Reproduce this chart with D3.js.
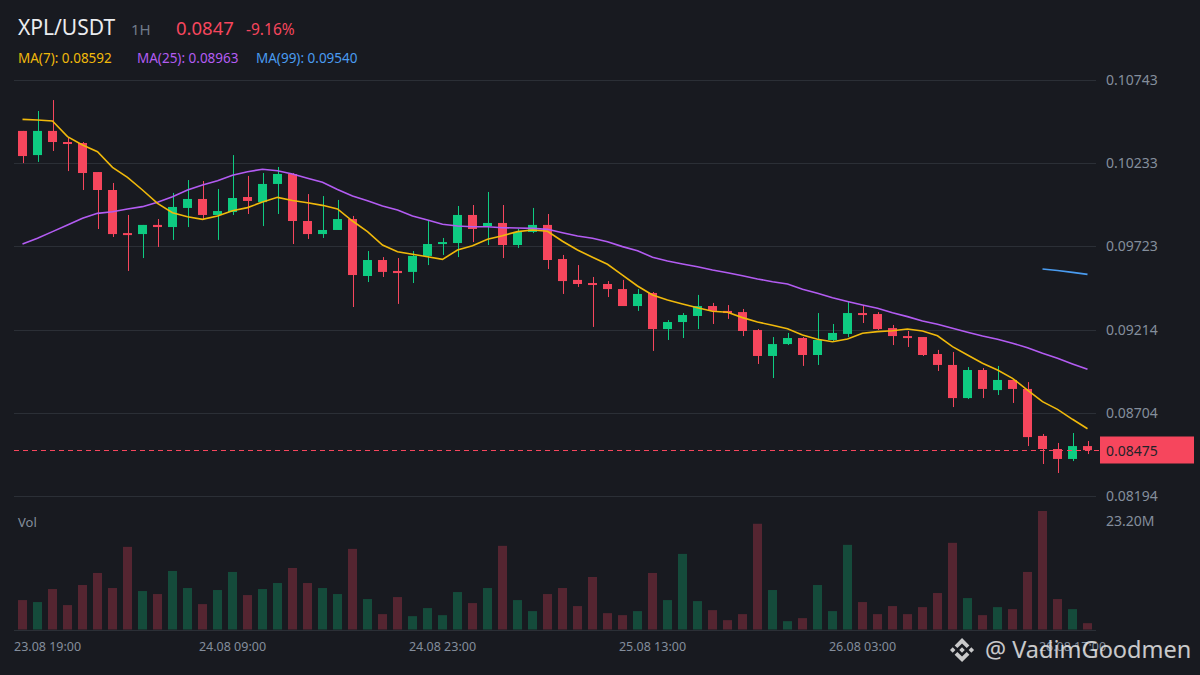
<!DOCTYPE html>
<html><head><meta charset="utf-8">
<script src="https://cdn.jsdelivr.net/npm/d3@7/dist/d3.min.js"></script>
<style>html,body{margin:0;padding:0;background:#181a20;overflow:hidden}svg{display:block}text{font-family:"Noto Sans",sans-serif}</style>
</head><body><svg id="c" width="1200" height="675"></svg>
<script>
const openP = [0.10431,0.10283,0.10431,0.10363,0.10357,0.10179,0.10069,0.09805,0.09799,0.09855,
0.09842,0.09959,0.10014,0.09916,0.09934,0.10026,0.09995,0.10106,0.10167,0.09879,
0.09799,0.09824,0.09891,0.09542,0.09640,0.09573,0.09567,0.09665,0.09738,0.09744,
0.09916,0.09848,0.09867,0.09732,0.09812,0.09855,0.09646,0.09518,0.09499,0.09493,
0.09462,0.09358,0.09438,0.09217,0.09260,0.09297,0.09358,0.09328,0.09321,0.09211,
0.09052,0.09125,0.09162,0.09058,0.09150,0.09187,0.09315,0.09309,0.09223,0.09174,
0.09168,0.09064,0.08997,0.08794,0.08966,0.08843,0.08905,0.08850,0.08562,0.08482,
0.08421,0.08500];
const highP = [0.10431,0.10553,0.10620,0.10388,0.10363,0.10179,0.10112,0.09916,0.09855,0.09891,
0.10051,0.10130,0.10124,0.10075,0.10283,0.10155,0.10173,0.10210,0.10173,0.10044,
0.10032,0.10008,0.09910,0.09695,0.09658,0.09652,0.09695,0.09879,0.09775,0.09971,
0.09977,0.10057,0.09977,0.09830,0.09959,0.09922,0.09671,0.09609,0.09536,0.09511,
0.09518,0.09462,0.09444,0.09272,0.09315,0.09426,0.09377,0.09364,0.09340,0.09217,
0.09168,0.09193,0.09168,0.09315,0.09248,0.09383,0.09358,0.09321,0.09242,0.09205,
0.09168,0.09089,0.09076,0.08984,0.08978,0.08991,0.08905,0.08892,0.08574,0.08519,
0.08580,0.08531];
const lowP = [0.10234,0.10241,0.10308,0.10185,0.10069,0.09830,0.09781,0.09573,0.09652,0.09720,
0.09763,0.09842,0.09891,0.09763,0.09916,0.09922,0.09848,0.09922,0.09738,0.09769,
0.09775,0.09824,0.09352,0.09505,0.09536,0.09371,0.09499,0.09609,0.09671,0.09658,
0.09750,0.09732,0.09652,0.09714,0.09805,0.09585,0.09432,0.09475,0.09230,0.09413,
0.09358,0.09328,0.09083,0.09150,0.09162,0.09217,0.09248,0.09279,0.09174,0.09003,
0.08917,0.09119,0.08991,0.08997,0.09144,0.09168,0.09254,0.09211,0.09119,0.09107,
0.09052,0.08960,0.08739,0.08788,0.08794,0.08813,0.08764,0.08500,0.08390,0.08335,
0.08408,0.08451];
const closeP = [0.10277,0.10431,0.10363,0.10351,0.10173,0.10069,0.09799,0.09793,0.09855,0.09842,
0.09965,0.10014,0.09916,0.09940,0.10020,0.10002,0.10106,0.10167,0.09879,0.09799,
0.09824,0.09891,0.09548,0.09640,0.09567,0.09560,0.09665,0.09738,0.09750,0.09916,
0.09830,0.09867,0.09732,0.09812,0.09855,0.09640,0.09511,0.09493,0.09487,0.09462,
0.09358,0.09432,0.09217,0.09260,0.09303,0.09358,0.09328,0.09315,0.09205,0.09052,
0.09125,0.09162,0.09058,0.09150,0.09193,0.09315,0.09303,0.09217,0.09174,0.09162,
0.09058,0.08997,0.08794,0.08966,0.08850,0.08905,0.08850,0.08555,0.08482,0.08421,
0.08500,0.08475];
const volumeM = [5.76,5.37,7.92,4.78,8.71,11.07,8.12,16.18,7.53,6.94,
11.46,8.12,4.97,7.73,11.27,6.74,7.92,9.10,12.05,9.10,
8.12,6.94,15.79,5.96,3.01,6.35,2.61,4.19,2.81,7.33,
5.17,8.12,16.38,5.76,3.60,6.94,8.12,4.58,10.28,3.20,
2.81,3.60,11.07,5.76,14.80,5.56,3.79,1.83,3.01,20.70,
7.73,1.63,2.22,8.71,3.60,16.57,5.37,3.01,4.58,3.01,
4.38,7.14,16.97,6.15,2.81,4.38,3.99,11.27,23.20,5.96,
3.99,1.24];
const ma7 = [0.10502,0.10498,0.10492,0.10396,0.10345,0.10304,0.10208,0.10147,0.10069,0.09987,
0.09930,0.09905,0.09889,0.09910,0.09942,0.09961,0.09995,0.10024,0.10005,0.09991,
0.09975,0.09953,0.09879,0.09814,0.09732,0.09691,0.09675,0.09660,0.09644,0.09701,
0.09728,0.09767,0.09789,0.09814,0.09824,0.09816,0.09755,0.09701,0.09657,0.09614,
0.09548,0.09481,0.09426,0.09395,0.09371,0.09348,0.09326,0.09320,0.09287,0.09260,
0.09240,0.09219,0.09181,0.09154,0.09139,0.09156,0.09191,0.09201,0.09207,0.09217,
0.09205,0.09176,0.09109,0.09058,0.09007,0.08966,0.08915,0.08843,0.08772,0.08725,
0.08664,0.08606];
const ma25 = [0.09738,0.09773,0.09814,0.09855,0.09896,0.09926,0.09936,0.09953,0.09967,0.09994,
0.10028,0.10069,0.10100,0.10126,0.10159,0.10181,0.10196,0.10187,0.10167,0.10141,
0.10116,0.10072,0.10032,0.10003,0.09971,0.09946,0.09910,0.09885,0.09859,0.09848,
0.09844,0.09844,0.09838,0.09836,0.09834,0.09828,0.09807,0.09787,0.09773,0.09752,
0.09722,0.09697,0.09657,0.09634,0.09616,0.09599,0.09579,0.09562,0.09544,0.09524,
0.09507,0.09493,0.09461,0.09436,0.09409,0.09386,0.09364,0.09344,0.09317,0.09293,
0.09266,0.09246,0.09222,0.09197,0.09174,0.09154,0.09130,0.09103,0.09068,0.09038,
0.09003,0.08970];
const ma99Start = 68;
const ma99 = [0.09585,0.09576,0.09564,0.09552];
const priceTicks = [0.10743,0.10233,0.09723,0.09214,0.08704,0.08194];
const timeLabels = ["23.08 19:00","24.08 09:00","24.08 23:00","25.08 13:00","26.08 03:00","26.08 17:00"];
const timeLabelIdx = [0,14,28,42,56,70];
const lastPrice = 0.08475;
const volMaxLabel = "23.20M";
const headerPair = "XPL/USDT", headerTf = "1H", headerPrice = "0.0847", headerChg = "-9.16%";
const maLegend = [["MA(7): ","0.08592"],["MA(25): ","0.08963"],["MA(99): ","0.09540"]];

const C = {bg:"#181a20", grid:"#2b2f36", axis:"#848e9c", up:"#0ecb81", down:"#f6465d",
  upVol:"rgba(14,203,129,0.28)", downVol:"rgba(246,70,93,0.28)",
  ma7:"#f0b90b", ma25:"#b35cf2", ma99:"#4a9cf0"};

const n = closeP.length;
const idx = d3.range(n);
const svg = d3.select("#c");
svg.append("rect").attr("width",1200).attr("height",675).attr("fill",C.bg);

const x = d3.scaleBand().domain(idx).range([15,1095]).paddingInner(0.4).paddingOuter(0.2);
const cx = i => x(i) + x.bandwidth()/2;
const y = d3.scaleLinear().domain([priceTicks[5], priceTicks[0]]).range([496,80]);
const yv = d3.scaleLinear().domain([0, 23.20]).range([629.5, 511]);

// grid
const gGrid = svg.append("g");
gGrid.selectAll("line").data(priceTicks).join("line")
  .attr("x1",14).attr("x2",1096).attr("y1",d=>Math.round(y(d))+0.5).attr("y2",d=>Math.round(y(d))+0.5)
  .attr("stroke",C.grid).attr("stroke-width",1);
// y axis via d3.axisRight
const yAxis = d3.axisRight(y).tickValues(priceTicks).tickFormat(d3.format(".5f")).tickSize(0).tickPadding(0);
const gy = svg.append("g").attr("transform","translate(1106,0)").call(yAxis);
gy.select(".domain").remove();
gy.selectAll("text").attr("fill",C.axis).attr("font-size",14).attr("font-family","Noto Sans");

// volume baseline
svg.append("line").attr("x1",14).attr("x2",1096).attr("y1",630.5).attr("y2",630.5).attr("stroke",C.grid);

// volume bars
svg.append("g").selectAll("rect").data(idx).join("rect")
  .attr("x",i=>x(i)).attr("width",x.bandwidth())
  .attr("y",i=>yv(volumeM[i])).attr("height",i=>yv(0)-yv(volumeM[i]))
  .attr("fill",i=>closeP[i]>=openP[i]?C.upVol:C.downVol);

svg.append("text").attr("x",18).attr("y",527).attr("fill",C.axis).attr("font-size",13).text("Vol");
svg.append("text").attr("x",1106).attr("y",526).attr("fill",C.axis).attr("font-size",14).text(volMaxLabel);

// candles
const gC = svg.append("g");
gC.selectAll("line").data(idx).join("line")
  .attr("x1",i=>Math.round(cx(i))+0.5).attr("x2",i=>Math.round(cx(i))+0.5)
  .attr("y1",i=>y(highP[i])).attr("y2",i=>y(lowP[i]))
  .attr("stroke",i=>closeP[i]>=openP[i]?C.up:C.down).attr("stroke-width",1);
gC.selectAll("rect").data(idx).join("rect")
  .attr("x",i=>x(i)).attr("width",x.bandwidth())
  .attr("y",i=>Math.min(y(openP[i]),y(closeP[i])))
  .attr("height",i=>Math.max(2,Math.abs(y(openP[i])-y(closeP[i]))))
  .attr("fill",i=>closeP[i]>=openP[i]?C.up:C.down);

// MA lines
const line = d3.line().x(d=>cx(d[0])).y(d=>y(d[1]));
svg.append("path").datum(ma25.map((v,i)=>[i,v])).attr("d",line).attr("fill","none").attr("stroke",C.ma25).attr("stroke-width",1.6);
svg.append("path").datum(ma7.map((v,i)=>[i,v])).attr("d",line).attr("fill","none").attr("stroke",C.ma7).attr("stroke-width",1.6);
svg.append("path").datum(ma99.map((v,i)=>[i+ma99Start,v])).attr("d",line).attr("fill","none").attr("stroke",C.ma99).attr("stroke-width",1.6);

// last price line + label
const ly = Math.round(y(lastPrice))+0.5;
svg.append("line").attr("x1",14).attr("x2",1100).attr("y1",ly).attr("y2",ly)
  .attr("stroke",C.down).attr("stroke-dasharray","5,4").attr("stroke-width",1);
svg.append("rect").attr("x",1100).attr("y",ly-14).attr("width",94).attr("height",27).attr("fill",C.down);
svg.append("text").attr("x",1106).attr("y",ly+5).attr("fill","#1e2329").attr("font-size",14).text(d3.format(".5f")(lastPrice));

// x labels
svg.append("g").selectAll("text").data(timeLabelIdx).join("text")
  .attr("x",(d,k)=>k===0?14:cx(d)).attr("y",651)
  .attr("text-anchor",(d,k)=>k===0?"start":"middle")
  .attr("fill",C.axis).attr("font-size",12.5).text((d,k)=>timeLabels[k]);

// header
svg.append("text").attr("x",18).attr("y",35).attr("fill","#eaecef").attr("font-size",21).text(headerPair);
svg.append("text").attr("x",131).attr("y",35).attr("fill","#707a8a").attr("font-size",15).text(headerTf);
svg.append("text").attr("x",176).attr("y",35).attr("fill",C.down).attr("font-size",18.5).text(headerPrice);
svg.append("text").attr("x",246).attr("y",35).attr("fill",C.down).attr("font-size",15.5).text(headerChg);
const maCols=[C.ma7,C.ma25,C.ma99], maX=[18,137,256];
maLegend.forEach((m,k)=>{
  svg.append("text").attr("x",maX[k]).attr("y",63).attr("fill",maCols[k]).attr("font-size",13.5).text(m[0]+m[1]);
});

// watermark
const wm = svg.append("g").attr("opacity",0.85);
wm.append("path").attr("transform","translate(950,638) scale(0.19)").attr("fill","#e8e8e8")
  .attr("d","M38.73 53.2l24.59-24.58 24.6 24.6 14.3-14.31L63.32 0 24.42 38.9l14.31 14.3zM0 63.31l14.3-14.31 14.31 14.31-14.31 14.3zm38.73 10.11l24.59 24.59 24.6-24.6 14.31 14.29-38.9 38.91-38.91-38.88-.02-.02 14.33-14.29zm59.27-10.11l14.31-14.31 14.3 14.3-14.3 14.31zM77.83 63.3L63.32 48.78 52.59 59.51l-1.24 1.23-2.54 2.54-.02.02.02.03 14.51 14.5 14.51-14.52.01-.01-.01-.01z");
wm.append("text").attr("x",985).attr("y",658).attr("fill","#e8e8e8").attr("font-size",23.5).text("@ VadimGoodmen");
</script></body></html>
